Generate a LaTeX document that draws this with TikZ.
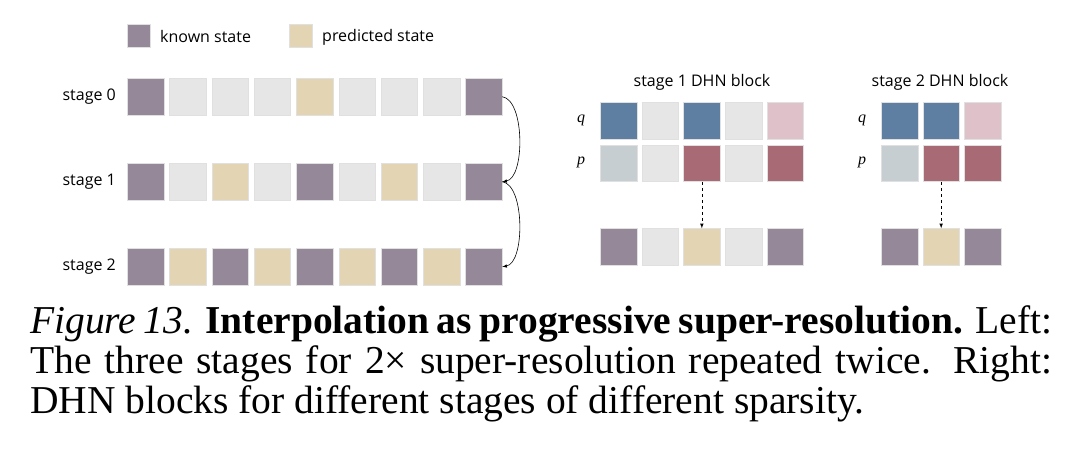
\documentclass[tikz,border=0pt]{standalone}
\usepackage{fontspec}
\setmainfont{Liberation Serif}
\newfontfamily\lab{Open Sans}
\begin{document}
\begin{tikzpicture}[x=1bp,y=-1bp,
  sq/.style={draw=black!12,line width=0.4bp,minimum size=36.5bp,inner sep=0,anchor=north west},
  K/.style={sq,fill=cK}, G/.style={sq,fill=cG}, P/.style={sq,fill=cP},
  B/.style={sq,fill=cB}, R/.style={sq,fill=cR}, L/.style={sq,fill=cL}, S/.style={sq,fill=cS},
  lbl/.style={font=\lab\fontsize{16bp}{18bp}\selectfont,inner sep=0},
  ml/.style={font=\fontsize{16bp}{18bp}\selectfont\itshape,inner sep=0},
  arr/.style={-latex,line width=0.6bp}]
\definecolor{cK}{HTML}{948899}
\definecolor{cG}{HTML}{E6E6E6}
\definecolor{cP}{HTML}{E3D5B3}
\definecolor{cB}{HTML}{5E7FA1}
\definecolor{cR}{HTML}{A86A75}
\definecolor{cL}{HTML}{DEC1C9}
\definecolor{cS}{HTML}{C6CED2}
\useasboundingbox (0,0) rectangle (1080,451);
\fill[white] (0,0) rectangle (1080,451);
% legend
\node[K,minimum size=23bp] (lk) at (127,24) {};
\node[lbl,anchor=west] (lkt) at (160,37) {known state};
\node[P,minimum size=23bp] (lp) at (289,24) {};
\node[lbl,anchor=west] (lpt) at (322,37) {predicted state};
% left rows
\def\rowA{K,G,G,G,P,G,G,G,K}
\def\rowB{K,G,P,G,K,G,P,G,K}
\def\rowC{K,P,K,P,K,P,K,P,K}
\foreach \c [count=\i from 0] in \rowA {\node[\c] (a\i) at (127+42.3*\i,78.3) {};}
\foreach \c [count=\i from 0] in \rowB {\node[\c] (b\i) at (127+42.3*\i,163.3) {};}
\foreach \c [count=\i from 0] in \rowC {\node[\c] (c\i) at (127+42.3*\i,248.3) {};}
\node[lbl,anchor=east] (s0) at (116,97) {stage 0};
\node[lbl,anchor=east] (s1) at (116,182) {stage 1};
\node[lbl,anchor=east] (s2) at (116,267) {stage 2};
\draw[arr] (a8.east) .. controls (525,100) and (525,178) .. (b8.east);
\draw[arr] (b8.east) .. controls (525,185) and (525,263) .. (c8.east);
% stage 1 DHN block
\node[lbl] (t1) at (702,82) {stage 1 DHN block};
\foreach \c [count=\i from 0] in {B,G,B,G,L} {\node[\c] (q\i) at (600+41.7*\i,102.3) {};}
\foreach \c [count=\i from 0] in {S,G,R,G,R} {\node[\c] (p\i) at (600+41.7*\i,145) {};}
\foreach \c [count=\i from 0] in {K,G,P,G,K} {\node[\c] (o\i) at (600+41.7*\i,228.3) {};}
\node[ml] (ql) at (581,120) {q};
\node[ml] (pl) at (581,162) {p};
\draw[arr,dashed] (p2.south) -- (o2.north);
% stage 2 DHN block
\node[lbl] (t2) at (940,82) {stage 2 DHN block};
\foreach \c [count=\i from 0] in {B,B,L} {\node[\c] (Q\i) at (881+41.7*\i,102.3) {};}
\foreach \c [count=\i from 0] in {S,R,R} {\node[\c] (P\i) at (881+41.7*\i,145) {};}
\foreach \c [count=\i from 0] in {K,P,K} {\node[\c] (O\i) at (881+41.7*\i,228.3) {};}
\node[ml] (Ql) at (862,120) {q};
\node[ml] (Pl) at (862,162) {p};
\draw[arr,dashed] (P1.south) -- (O1.north);
% caption
\begin{scope}[every node/.style={anchor=base west,inner sep=0,font=\fontsize{39.5bp}{40bp}\selectfont}]
\node (l1) at (30,334) {\makebox[1022bp][s]{\textit{Figure 13.} \textbf{Interpolation as progressive super-resolution.} Left:}};
\node (l2) at (30,374) {\makebox[1022bp][s]{The three stages for 2× super-resolution repeated twice. Right:}};
\node (l3) at (30,414) {DHN blocks for different stages of different sparsity.};
\end{scope}
\end{tikzpicture}
\end{document}
